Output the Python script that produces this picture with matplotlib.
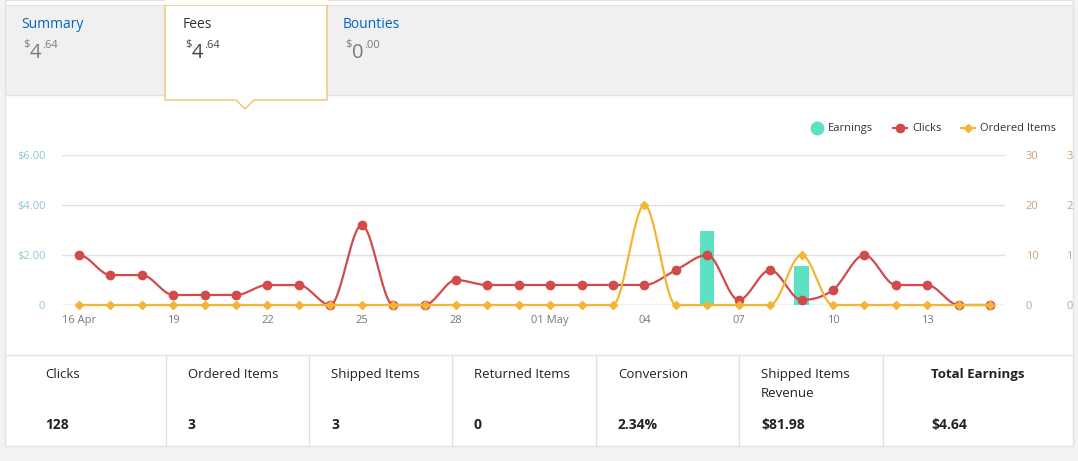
import numpy as np
import matplotlib
matplotlib.use("Agg")
import matplotlib.pyplot as plt
from matplotlib.patches import Rectangle, Polygon
from matplotlib.lines import Line2D
from matplotlib.transforms import Affine2D

plt.rcParams['font.family'] = ['Open Sans', 'DejaVu Sans']

days = ["16 Apr","17","18","19","20","21","22","23","24","25","26","27","28","29","30",
        "01 May","02","03","04","05","06","07","08","09","10","11","12","13","14","15"]
clicks = [10,6,6,2,2,2,4,4,0,16,0,0,5,4,4,4,4,4,4,7,10,1,7,1,3,10,4,4,0,0]
ordered = [0]*18 + [2] + [0]*4 + [1] + [0]*6
earnings = [0]*20 + [2.96] + [0,0] + [1.57] + [0]*6
tick_every = 3
stat_labels = ["Clicks","Ordered Items","Shipped Items","Returned Items","Conversion","Shipped Items\nRevenue","Total Earnings"]
stat_values = ["128","3","3","0","2.34%","$81.98","$4.64"]
tabs = [("Summary","4",".64"),("Fees","4",".64"),("Bounties","0",".00")]

W, H = 1078, 461
fig = plt.figure(figsize=(W/100, H/100), dpi=100)
fig.patch.set_facecolor("#f3f3f3")
pix = Affine2D().scale(1/W, -1/H).translate(0, 1) + fig.transFigure

def rect(x, y, w, h, fc, ec="none", lw=0):
    fig.add_artist(Rectangle((x, y+h), w, -h, transform=pix, fc=fc, ec=ec, lw=lw, zorder=0))

rect(5, 0, 1068, 446, "white", "#e2e2e2", 1)
rect(5, 5, 1068, 90, "#f0f0f0", "#e2e2e2", 1)
fig.add_artist(Polygon([(165,5),(327,5),(327,100),(254,100),(245,109),(236,100),(165,100)],
                       closed=True, transform=pix, fc="white", ec="#f0c36d", lw=1, zorder=1))
fig.add_artist(Rectangle((164.5, 5), 163, -6, transform=pix, fc="white", ec="none", zorder=1))
tx = [21, 183, 343]
for (name, big, small), x in zip(tabs, tx):
    col = "#333333" if name == "Fees" else "#0066c0"
    vcol = "#444444" if name == "Fees" else "#7a7a7a"
    fig.text(x, 24, name, transform=pix, fontsize=10, color=col, va="center", zorder=2)
    fig.text(x+2, 45, "$", transform=pix, fontsize=8, color=vcol, va="center", zorder=2)
    fig.text(x+9, 53, big, transform=pix, fontsize=14.5, color=vcol, va="center", zorder=2)
    fig.text(x+21, 46, small, transform=pix, fontsize=8, color=vcol, va="center", zorder=2)

rect(5, 355, 1068, 91, "white", "#e2e2e2", 1)
xs = [5, 166, 309, 452, 596, 739, 883]
for i, (lab, val) in enumerate(zip(stat_labels, stat_values)):
    if i > 0:
        fig.add_artist(Line2D([xs[i], xs[i]], [355, 446], transform=pix, color="#e2e2e2", lw=1))
    x = xs[i] + (40 if i == 0 else 22 if i < 6 else 48)
    bold = "bold" if i == 6 else "normal"
    fig.text(x, 368, lab, transform=pix, fontsize=9.5, color="#222222", va="top", fontweight=bold, linespacing=1.6)
    fig.text(x, 425, val, transform=pix, fontsize=10, color="#222222", va="center", fontweight="bold")

L, R, B, Tp = 62, 1005, 305, 155
ax = fig.add_axes([L/W, 1-B/H, (R-L)/W, (B-Tp)/H])
ax.set_facecolor("none")
n = len(days)
x = np.arange(n)
x0 = 79; x1 = 990
per = (x1 - x0) / (n-1)
ax.set_xlim(-(x0-L)/per, (n-1) + (R-x1)/per)
ax.set_ylim(0, 6)
ax.set_yticks([0, 2, 4, 6])
ax.set_yticklabels(["0", "$2.00", "$4.00", "$6.00"])
for s in ax.spines.values():
    s.set_visible(False)
ax.tick_params(axis="y", length=0, labelsize=8, labelcolor="#8fc7cf", pad=12)
ax.grid(axis="y", color="#e0e0e0", lw=1)
ax.axhline(0, color="#c8d0dc", lw=1)
ax.set_xticks(x[::tick_every])
ax.set_xticklabels(days[::tick_every])
ax.tick_params(axis="x", length=0, labelsize=8, labelcolor="#777777", pad=7)
ax.bar(x, earnings, width=0.45, color="#5ce1c2", zorder=2)

def spline(xv, yv, res=24):
    xv = np.asarray(xv, float); yv = np.asarray(yv, float)
    m = np.zeros_like(yv)
    for i in range(1, len(yv)-1):
        if (yv[i]-yv[i-1])*(yv[i+1]-yv[i]) > 0:
            m[i] = (yv[i+1]-yv[i-1])/2
    t = np.linspace(0, 1, res)
    h00 = 2*t**3-3*t**2+1; h10 = t**3-2*t**2+t; h01 = -2*t**3+3*t**2; h11 = t**3-t**2
    ox, oy = [], []
    for i in range(len(yv)-1):
        ox.extend(xv[i] + t*(xv[i+1]-xv[i]))
        oy.extend(h00*yv[i]+h10*m[i]+h01*yv[i+1]+h11*m[i+1])
    return np.array(ox), np.array(oy)

ax2 = ax.twinx(); ax2.set_ylim(0, 30)
ax3 = ax.twinx(); ax3.set_ylim(0, 3)
for a, ticks, pad in ((ax2, [0,10,20,30], 15), (ax3, [0,1,2,3], 44)):
    for s in a.spines.values():
        s.set_visible(False)
    a.set_yticks(ticks)
    a.tick_params(axis="y", length=0, labelsize=8, labelcolor="#c9a27a", pad=pad)
sx, sy = spline(x, clicks)
ax2.plot(sx, sy, color="#d24b4b", lw=1.6, zorder=3, clip_on=False)
ax2.plot(x, clicks, "o", color="#d24b4b", ms=6, zorder=3, clip_on=False)
ox_, oy_ = spline(x, ordered)
ax3.plot(ox_, oy_, color="#f2b534", lw=1.6, zorder=4, clip_on=False)
ax3.plot(x, ordered, "D", color="#f2b534", ms=4, zorder=4, clip_on=False)

fig.add_artist(Line2D([817], [128], transform=pix, marker="o", ms=9, color="#5ce1c2", ls="none"))
fig.text(828, 128, "Earnings", transform=pix, fontsize=8, color="#333333", va="center")
fig.add_artist(Line2D([893, 907], [128, 128], transform=pix, color="#d24b4b", lw=1.5))
fig.add_artist(Line2D([900], [128], transform=pix, marker="o", ms=6, color="#d24b4b", ls="none"))
fig.text(912, 128, "Clicks", transform=pix, fontsize=8, color="#333333", va="center")
fig.add_artist(Line2D([961, 975], [128, 128], transform=pix, color="#f2b534", lw=1.5))
fig.add_artist(Line2D([968], [128], transform=pix, marker="D", ms=4, color="#f2b534", ls="none"))
fig.text(980, 128, "Ordered Items", transform=pix, fontsize=8, color="#333333", va="center")

fig.savefig("out.png", dpi=100, facecolor=fig.get_facecolor())
